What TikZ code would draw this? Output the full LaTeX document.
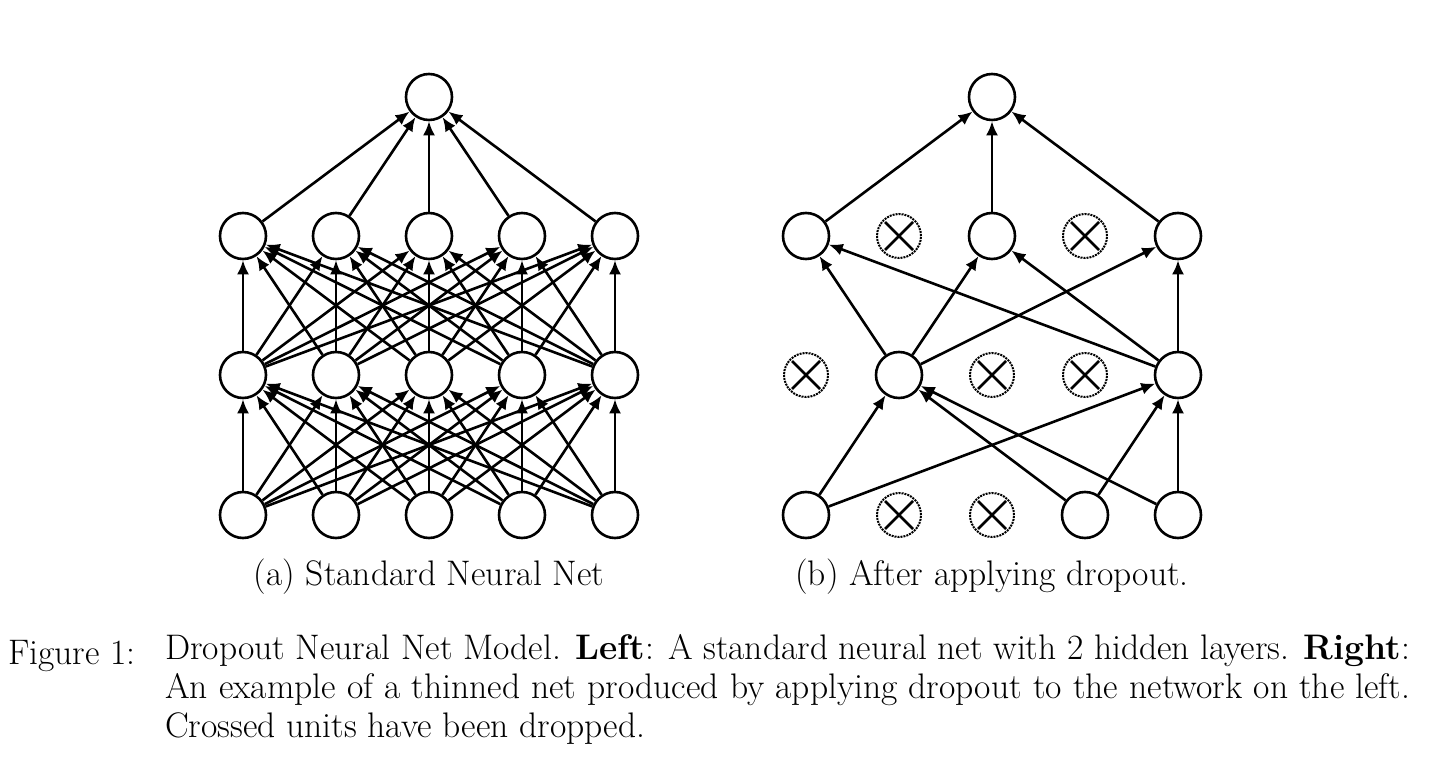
\documentclass[tikz,border=0pt]{standalone}
\usetikzlibrary{arrows.meta}
\tikzset{
  unit/.style={circle, draw, line width=2.6pt, minimum size=46pt, inner sep=0pt, fill=white},
  dropped/.style={circle, draw, densely dotted, line width=2pt, minimum size=44pt, inner sep=0pt, path picture={
      \draw[solid, line width=2.6pt] (path picture bounding box.south west) ++(8pt,8pt) -- ++(28pt,28pt);
      \draw[solid, line width=2.6pt] (path picture bounding box.north west) ++(8pt,-8pt) -- ++(28pt,-28pt);}},
  link/.style={line width=2.6pt, -{Latex[length=14pt,width=12pt]}},
  txt/.style={inner sep=0pt, font=\fontsize{35.5}{39}\selectfont}
}
\begin{document}
\begin{tikzpicture}[x=1pt,y=1pt]
  \useasboundingbox (0,0) rectangle (1440,761);
  \def\rowa{246} \def\rowb{386} \def\rowc{525} \def\rowo{664}

  % standard net
  \foreach \i/\x in {1/243,2/336,3/429,4/522,5/615} {
    \node[unit] (a\i) at (\x,\rowa) {};
    \node[unit] (b\i) at (\x,\rowb) {};
    \node[unit] (c\i) at (\x,\rowc) {};
  }
  \node[unit] (o) at (429,\rowo) {};
  \foreach \i in {1,...,5} {
    \foreach \j in {1,...,5} {
      \draw[link] (a\i) -- (b\j);
      \draw[link] (b\i) -- (c\j);
    }
    \draw[link] (c\i) -- (o);
  }

  % thinned net
  \foreach \i/\x in {1/806,2/899,3/992,4/1085,5/1178} {
    \coordinate (pa\i) at (\x,\rowa);
    \coordinate (pb\i) at (\x,\rowb);
    \coordinate (pc\i) at (\x,\rowc);
  }
  \foreach \i in {1,4,5} \node[unit] (ra\i) at (pa\i) {};
  \foreach \i in {2,3} \node[dropped] (da\i) at (pa\i) {};
  \foreach \i in {2,5} \node[unit] (rb\i) at (pb\i) {};
  \foreach \i in {1,3,4} \node[dropped] (db\i) at (pb\i) {};
  \foreach \i in {1,3,5} \node[unit] (rc\i) at (pc\i) {};
  \foreach \i in {2,4} \node[dropped] (dc\i) at (pc\i) {};
  \node[unit] (ro) at (992,\rowo) {};
  \foreach \i in {1,4,5} {
    \draw[link] (ra\i) -- (rb2);
    \draw[link] (ra\i) -- (rb5);
  }
  \foreach \i in {2,5} {
    \foreach \j in {1,3,5} \draw[link] (rb\i) -- (rc\j);
  }
  \foreach \j in {1,3,5} \draw[link] (rc\j) -- (ro);

  % captions
  \node[txt, anchor=base] (capa) at (429,176) {(a) Standard Neural Net};
  \node[txt, anchor=base] (capb) at (992,176) {(b) After applying dropout.};
  \node[txt, anchor=base west] (fig) at (8,97) {Figure 1:};
  \node[txt, anchor=north west, text width=1245pt, align=justify] (body) at (165,127)
    {Dropout Neural Net Model. \textbf{Left}: A standard neural net with 2 hidden layers. \textbf{Right}:\linebreak An example of a thinned net produced by applying dropout to the network on the left.\linebreak Crossed units have been dropped.};
\end{tikzpicture}
\end{document}
